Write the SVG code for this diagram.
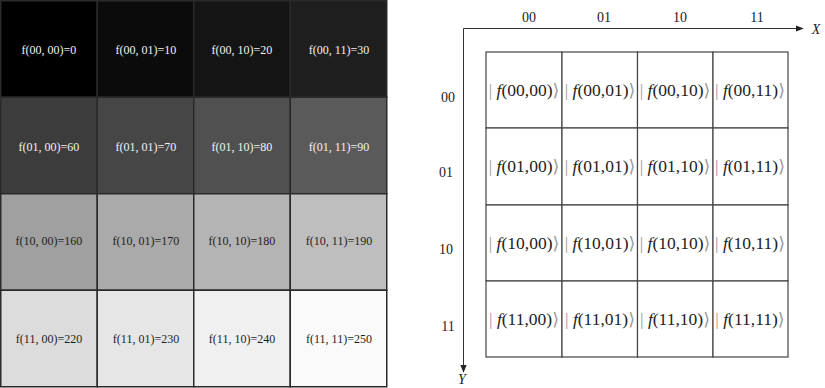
<svg xmlns="http://www.w3.org/2000/svg" width="825" height="388" viewBox="0 0 825 388">
<style>
.lc{stroke:#2a2a2a;stroke-width:1.5}
.lt{font-family:"Liberation Serif","DejaVu Serif",serif;font-size:12px;text-anchor:middle}
.w{fill:#f2f2f2}
.d{fill:#1e1e1e}
.rc{fill:#fff;stroke:#444;stroke-width:1.2}
.rt{font-family:"Liberation Serif","DejaVu Serif",serif;font-size:17.5px;fill:#222;text-anchor:middle}
.br{fill:#999;font-style:normal}
.fi{font-style:italic}
.ax{font-family:"Liberation Serif","DejaVu Serif",serif;font-size:14px;fill:#222;text-anchor:middle}
.axis{stroke:#333;stroke-width:1;fill:none}
</style>
<defs>
<marker id="arr" viewBox="0 0 10 10" refX="9" refY="5" markerWidth="8" markerHeight="8" orient="auto" markerUnits="userSpaceOnUse">
<path d="M0,1 L10,5 L0,9 Z" fill="#222"/>
</marker>
</defs>
<rect width="825" height="388" fill="#fff"/>
<g id="left-grid">
<g id="c00"><rect class="lc" x="0.75" y="0.75" width="96.5" height="96.5" fill="#000"/><text class="lt w" x="49" y="54">f(00, 00)=0</text></g>
<g id="c01"><rect class="lc" x="97.25" y="0.75" width="96.5" height="96.5" fill="#0b0b0b"/><text class="lt w" x="146" y="54">f(00, 01)=10</text></g>
<g id="c02"><rect class="lc" x="193.75" y="0.75" width="96.5" height="96.5" fill="#141414"/><text class="lt w" x="242" y="54">f(00, 10)=20</text></g>
<g id="c03"><rect class="lc" x="290.25" y="0.75" width="96.5" height="96.5" fill="#1e1e1e"/><text class="lt w" x="339" y="54">f(00, 11)=30</text></g>
<g id="c10"><rect class="lc" x="0.75" y="97.25" width="96.5" height="96.5" fill="#3c3c3c"/><text class="lt w" x="49" y="151">f(01, 00)=60</text></g>
<g id="c11"><rect class="lc" x="97.25" y="97.25" width="96.5" height="96.5" fill="#464646"/><text class="lt w" x="146" y="151">f(01, 01)=70</text></g>
<g id="c12"><rect class="lc" x="193.75" y="97.25" width="96.5" height="96.5" fill="#505050"/><text class="lt w" x="242" y="151">f(01, 10)=80</text></g>
<g id="c13"><rect class="lc" x="290.25" y="97.25" width="96.5" height="96.5" fill="#5a5a5a"/><text class="lt w" x="339" y="151">f(01, 11)=90</text></g>
<g id="c20"><rect class="lc" x="0.75" y="193.75" width="96.5" height="96.5" fill="#a0a0a0"/><text class="lt d" x="49" y="245">f(10, 00)=160</text></g>
<g id="c21"><rect class="lc" x="97.25" y="193.75" width="96.5" height="96.5" fill="#aaaaaa"/><text class="lt d" x="146" y="245">f(10, 01)=170</text></g>
<g id="c22"><rect class="lc" x="193.75" y="193.75" width="96.5" height="96.5" fill="#b4b4b4"/><text class="lt d" x="242" y="245">f(10, 10)=180</text></g>
<g id="c23"><rect class="lc" x="290.25" y="193.75" width="96.5" height="96.5" fill="#bebebe"/><text class="lt d" x="339" y="245">f(10, 11)=190</text></g>
<g id="c30"><rect class="lc" x="0.75" y="290.25" width="96.5" height="96.5" fill="#dcdcdc"/><text class="lt d" x="49" y="343">f(11, 00)=220</text></g>
<g id="c31"><rect class="lc" x="97.25" y="290.25" width="96.5" height="96.5" fill="#e6e6e6"/><text class="lt d" x="146" y="343">f(11, 01)=230</text></g>
<g id="c32"><rect class="lc" x="193.75" y="290.25" width="96.5" height="96.5" fill="#f0f0f0"/><text class="lt d" x="242" y="343">f(11, 10)=240</text></g>
<g id="c33"><rect class="lc" x="290.25" y="290.25" width="96.5" height="96.5" fill="#fafafa"/><text class="lt d" x="339" y="343">f(11, 11)=250</text></g>
</g>
<g id="connectors">
<line class="axis" x1="463.5" y1="28.5" x2="803" y2="28.5" marker-end="url(#arr)"/>
<line class="axis" x1="463.5" y1="28.5" x2="463.5" y2="372" marker-end="url(#arr)"/>
</g>
<g id="axis-labels">
<text class="ax fi" x="816" y="34" font-size="15">X</text>
<text class="ax fi" x="462" y="384" font-size="13">Y</text>
<text class="ax" x="529" y="22">00</text>
<text class="ax" x="604" y="22">01</text>
<text class="ax" x="680" y="22">10</text>
<text class="ax" x="757" y="22">11</text>
<text class="ax" x="448" y="102">00</text>
<text class="ax" x="446" y="177">01</text>
<text class="ax" x="446" y="254">10</text>
<text class="ax" x="448" y="331">11</text>
</g>
<g id="right-grid">
<g id="k00"><rect class="rc" x="486" y="52" width="76" height="76"/><text class="rt" x="524" y="96"><tspan class="br">|</tspan> <tspan class="fi">f</tspan>(00,00)<tspan class="br">⟩</tspan></text></g>
<g id="k01"><rect class="rc" x="562" y="52" width="75.5" height="76"/><text class="rt" x="600" y="96"><tspan class="br">|</tspan> <tspan class="fi">f</tspan>(00,01)<tspan class="br">⟩</tspan></text></g>
<g id="k02"><rect class="rc" x="637.5" y="52" width="75.5" height="76"/><text class="rt" x="675" y="96"><tspan class="br">|</tspan> <tspan class="fi">f</tspan>(00,10)<tspan class="br">⟩</tspan></text></g>
<g id="k03"><rect class="rc" x="713" y="52" width="75" height="76"/><text class="rt" x="750" y="96"><tspan class="br">|</tspan> <tspan class="fi">f</tspan>(00,11)<tspan class="br">⟩</tspan></text></g>
<g id="k10"><rect class="rc" x="486" y="128" width="76" height="77"/><text class="rt" x="524" y="172"><tspan class="br">|</tspan> <tspan class="fi">f</tspan>(01,00)<tspan class="br">⟩</tspan></text></g>
<g id="k11"><rect class="rc" x="562" y="128" width="75.5" height="77"/><text class="rt" x="600" y="172"><tspan class="br">|</tspan> <tspan class="fi">f</tspan>(01,01)<tspan class="br">⟩</tspan></text></g>
<g id="k12"><rect class="rc" x="637.5" y="128" width="75.5" height="77"/><text class="rt" x="675" y="172"><tspan class="br">|</tspan> <tspan class="fi">f</tspan>(01,10)<tspan class="br">⟩</tspan></text></g>
<g id="k13"><rect class="rc" x="713" y="128" width="75" height="77"/><text class="rt" x="750" y="172"><tspan class="br">|</tspan> <tspan class="fi">f</tspan>(01,11)<tspan class="br">⟩</tspan></text></g>
<g id="k20"><rect class="rc" x="486" y="205" width="76" height="76"/><text class="rt" x="524" y="249"><tspan class="br">|</tspan> <tspan class="fi">f</tspan>(10,00)<tspan class="br">⟩</tspan></text></g>
<g id="k21"><rect class="rc" x="562" y="205" width="75.5" height="76"/><text class="rt" x="600" y="249"><tspan class="br">|</tspan> <tspan class="fi">f</tspan>(10,01)<tspan class="br">⟩</tspan></text></g>
<g id="k22"><rect class="rc" x="637.5" y="205" width="75.5" height="76"/><text class="rt" x="675" y="249"><tspan class="br">|</tspan> <tspan class="fi">f</tspan>(10,10)<tspan class="br">⟩</tspan></text></g>
<g id="k23"><rect class="rc" x="713" y="205" width="75" height="76"/><text class="rt" x="750" y="249"><tspan class="br">|</tspan> <tspan class="fi">f</tspan>(10,11)<tspan class="br">⟩</tspan></text></g>
<g id="k30"><rect class="rc" x="486" y="281" width="76" height="76"/><text class="rt" x="524" y="325"><tspan class="br">|</tspan> <tspan class="fi">f</tspan>(11,00)<tspan class="br">⟩</tspan></text></g>
<g id="k31"><rect class="rc" x="562" y="281" width="75.5" height="76"/><text class="rt" x="600" y="325"><tspan class="br">|</tspan> <tspan class="fi">f</tspan>(11,01)<tspan class="br">⟩</tspan></text></g>
<g id="k32"><rect class="rc" x="637.5" y="281" width="75.5" height="76"/><text class="rt" x="675" y="325"><tspan class="br">|</tspan> <tspan class="fi">f</tspan>(11,10)<tspan class="br">⟩</tspan></text></g>
<g id="k33"><rect class="rc" x="713" y="281" width="75" height="76"/><text class="rt" x="750" y="325"><tspan class="br">|</tspan> <tspan class="fi">f</tspan>(11,11)<tspan class="br">⟩</tspan></text></g>
</g>
</svg>
